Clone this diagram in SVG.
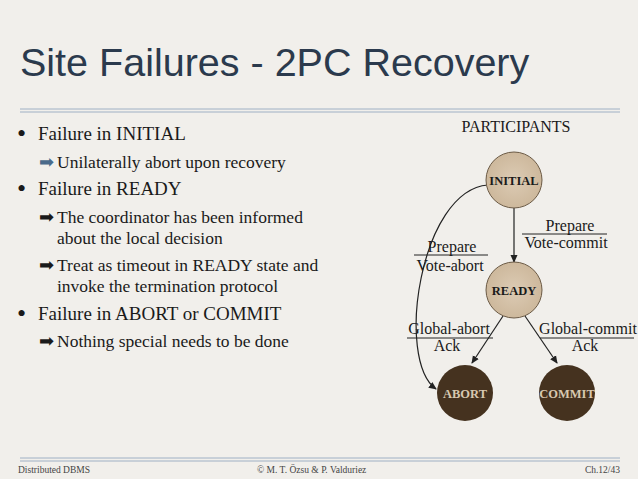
<svg xmlns="http://www.w3.org/2000/svg" width="638" height="479" viewBox="0 0 638 479">
<defs>
<marker id="ah" markerWidth="8" markerHeight="8" refX="7" refY="4" orient="auto" markerUnits="userSpaceOnUse"><path d="M0,0.5 L8,4 L0,7.5 z" fill="#222"/></marker>
<radialGradient id="lt" cx="0.5" cy="0.5" r="0.5"><stop offset="0" stop-color="#dccbb4"/><stop offset="1" stop-color="#cdb89c"/></radialGradient>
</defs>
<style>
.t{font-family:"Liberation Serif",serif;fill:#1a1a1a}
.m{font-size:19px}
.s{font-size:17.5px}
.b{font-size:26px}
.n{font-family:"Liberation Serif",serif;font-size:12.5px;font-weight:bold;text-anchor:middle}
.l{font-family:"Liberation Serif",serif;font-size:16px;fill:#1a1a1a;text-anchor:middle}
.c{stroke:#222;stroke-width:1.2;fill:none}
.u{stroke:#222;stroke-width:1}
.f{font-family:"Liberation Serif",serif;font-size:9.5px;fill:#444}
</style>
<rect width="638" height="479" fill="#f1efeb"/>
<text x="20" y="76" font-family="Liberation Sans,sans-serif" font-size="39.5" fill="#2b3a4d">Site Failures - 2PC Recovery</text>
<line x1="20" y1="109" x2="620" y2="109" stroke="#9fb0c4" stroke-width="1"/>
<line x1="20" y1="112" x2="620" y2="112" stroke="#9fb0c4" stroke-width="1"/>
<g class="t">
<text x="17" y="142" class="b">•</text><text x="38" y="140" class="m">Failure in INITIAL</text>
<text x="39" y="168" class="s" fill="#4a6a8a">➡</text><text x="57" y="168" class="s">Unilaterally abort upon recovery</text>
<text x="17" y="197" class="b">•</text><text x="38" y="195" class="m">Failure in READY</text>
<text x="39" y="223" class="s">➡</text><text x="57" y="223" class="s">The coordinator has been informed</text>
<text x="57" y="244" class="s">about the local decision</text>
<text x="39" y="271" class="s">➡</text><text x="57" y="271" class="s">Treat as timeout in READY state and</text>
<text x="57" y="292" class="s">invoke the termination protocol</text>
<text x="17" y="322" class="b">•</text><text x="38" y="320" class="m">Failure in ABORT or COMMIT</text>
<text x="39" y="347" class="s">➡</text><text x="57" y="347" class="s">Nothing special needs to be done</text>
</g>
<text x="516" y="132" class="l">PARTICIPANTS</text>
<g id="connectors">
<line class="c" x1="514" y1="208" x2="514" y2="262" marker-end="url(#ah)"/>
<line class="c" x1="503" y1="316" x2="472" y2="363" marker-end="url(#ah)"/>
<line class="c" x1="525" y1="316" x2="557" y2="363" marker-end="url(#ah)"/>
<path class="c" d="M488,185 C420,190 395,360 436,389" marker-end="url(#ah)"/>
<line class="u" x1="522" y1="234" x2="607" y2="234"/>
<line class="u" x1="414" y1="255" x2="488" y2="255"/>
<line class="u" x1="407" y1="338" x2="493" y2="338"/>
<line class="u" x1="540" y1="338" x2="634" y2="338"/>
</g>
<text x="570" y="231" class="l">Prepare</text>
<text x="566" y="248" class="l">Vote-commit</text>
<text x="452" y="252" class="l">Prepare</text>
<text x="450" y="271" class="l">Vote-abort</text>
<text x="449" y="334" class="l">Global-abort</text>
<text x="447" y="351" class="l">Ack</text>
<text x="588" y="334" class="l">Global-commit</text>
<text x="585" y="351" class="l">Ack</text>
<g id="initial"><circle cx="514" cy="180" r="28" fill="url(#lt)" stroke="#6b5a45" stroke-width="1"/><text x="514" y="185" class="n" fill="#1a1a1a">INITIAL</text></g>
<g id="ready"><circle cx="514" cy="290" r="28" fill="url(#lt)" stroke="#6b5a45" stroke-width="1"/><text x="514" y="295" class="n" fill="#1a1a1a">READY</text></g>
<g id="abort"><circle cx="465" cy="393" r="28" fill="#45321f"/><text x="465" y="398" class="n" fill="#d8c8b0">ABORT</text></g>
<g id="commit"><circle cx="567" cy="393" r="28" fill="#45321f"/><text x="567" y="398" class="n" fill="#d8c8b0">COMMIT</text></g>
<line x1="20" y1="458" x2="620" y2="458" stroke="#9fb0c4"/>
<line x1="20" y1="461" x2="620" y2="461" stroke="#9fb0c4"/>
<text x="18" y="473" class="f">Distributed DBMS</text>
<text x="257" y="473" class="f">© M. T. Özsu &amp; P. Valduriez</text>
<text x="620" y="473" class="f" text-anchor="end">Ch.12/43</text>
</svg>
